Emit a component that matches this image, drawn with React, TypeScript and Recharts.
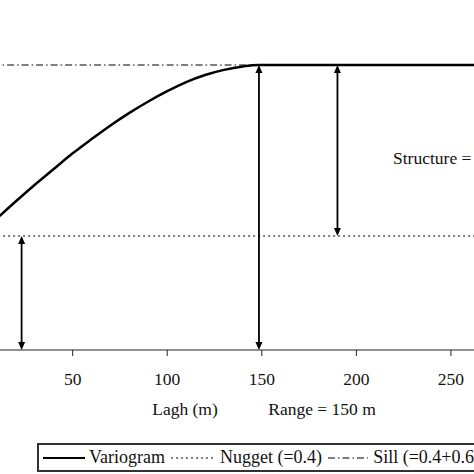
import React from 'react';
import { LineChart, Line, XAxis, YAxis, ReferenceLine, Legend } from 'recharts';

// Lag (m) and semivariance readings of the variogram curve
const LAG = [0, 10, 20, 30, 40, 50, 60, 70, 80, 90, 100, 110, 120, 130, 140, 148.5, 300];
const GAMMA = [0.4, 0.462, 0.522, 0.58, 0.635, 0.69, 0.74, 0.788, 0.832, 0.872, 0.908, 0.94, 0.965, 0.983, 0.995, 1.0, 1.0];

const X_TICKS = [0, 50, 100, 150, 200, 250, 300];
const NUGGET = 0.4;
const SILL = 1.0;
const RANGE_LAG = 148.5;
const NUGGET_ARROW_LAG = 23;
const STRUCTURE_ARROW_LAG = 190;

const AXIS_TEXTS = ['Lagh (m)', 'Range = 150 m'];
const STRUCTURE_TEXT = 'Structure = 0.6';
const LEGEND_NAMES = ['Variogram', 'Nugget (=0.4)', 'Sill (=0.4+0.6=1)'];

const data = LAG.map((lag, i) => ({ lag, variogram: GAMMA[i] }));

const FONT = "'Liberation Serif', 'Times New Roman', serif";
const FS = 17.5;
const LFS = 18;
const OFFSET_X = 60;

const ArrowShape = (props: any) => {
  const { x1, y1, x2, y2 } = props;
  const L = 8;
  const W = 3.5;
  const top = Math.min(y1, y2);
  const bot = Math.max(y1, y2);
  const x = x1;
  return (
    <g>
      <line x1={x} y1={top + 3} x2={x} y2={bot - 3} stroke="#000" strokeWidth={1.8} />
      <polygon points={`${x},${top} ${x - W},${top + L} ${x + W},${top + L}`} fill="#000" />
      <polygon points={`${x},${bot} ${x - W},${bot - L} ${x + W},${bot - L}`} fill="#000" />
    </g>
  );
};

const AxisTexts = () => (
  <g>
    <text x={185 + OFFSET_X} y={415} textAnchor="middle" fontFamily={FONT} fontSize={FS} fill="#111">
      {AXIS_TEXTS[0]}
    </text>
    <text x={322 + OFFSET_X} y={415} textAnchor="middle" fontFamily={FONT} fontSize={FS} fill="#111">
      {AXIS_TEXTS[1]}
    </text>
  </g>
);

const StructureText = () => (
  <text x={393 + OFFSET_X} y={164} fontFamily={FONT} fontSize={FS} fill="#111">
    {STRUCTURE_TEXT}
  </text>
);

const LegendContent = () => (
  <div
    style={{
      border: '2px solid #333',
      height: 25,
      display: 'flex',
      alignItems: 'center',
      fontFamily: FONT,
      fontSize: LFS,
      color: '#111',
      paddingLeft: 4,
      whiteSpace: 'nowrap',
      boxSizing: 'content-box',
    }}
  >
    <svg width={42} height={6} style={{ marginRight: 4 }}>
      <line x1={0} y1={3} x2={42} y2={3} stroke="#000" strokeWidth={2.2} />
    </svg>
    <span style={{ marginRight: 6 }}>{LEGEND_NAMES[0]}</span>
    <svg width={42} height={6} style={{ marginRight: 7 }}>
      <line x1={0} y1={3} x2={42} y2={3} stroke="#000" strokeWidth={1.2} strokeDasharray="2 3" />
    </svg>
    <span style={{ marginRight: 6 }}>{LEGEND_NAMES[1]}</span>
    <svg width={40} height={6} style={{ marginRight: 5 }}>
      <line x1={0} y1={3} x2={40} y2={3} stroke="#000" strokeWidth={1.2} strokeDasharray="7 3 1.5 3" />
    </svg>
    <span>{LEGEND_NAMES[2]}</span>
  </div>
);

export default function App() {
  return (
    <div style={{ position: 'fixed', left: 0, top: 0, width: 474, height: 474, overflow: 'hidden', background: '#fff' }}>
      <div style={{ position: 'absolute', left: -OFFSET_X, top: 0 }}>
        <LineChart
          width={620}
          height={474}
          data={data}
          margin={{ top: 8, right: 14.5, bottom: 64, left: 38.1 }}
        >
          <XAxis
            dataKey="lag"
            type="number"
            domain={[0, 300]}
            ticks={X_TICKS}
            allowDataOverflow
            height={60}
            tickSize={6}
            tickMargin={17}
            stroke="#222"
            tick={{ fontSize: FS, fontFamily: FONT, fill: '#111' }}
            label={{ content: () => <AxisTexts /> }}
          />
          <YAxis hide type="number" domain={[0, 1.2]} allowDataOverflow />
          <ReferenceLine y={NUGGET} stroke="#000" strokeWidth={1.2} strokeDasharray="2 3" />
          <ReferenceLine
            segment={[{ x: 0, y: SILL }, { x: RANGE_LAG, y: SILL }]}
            stroke="#000"
            strokeWidth={1.2}
            strokeDasharray="7 3 1.5 3"
          />
          <ReferenceLine
            segment={[{ x: NUGGET_ARROW_LAG, y: 0 }, { x: NUGGET_ARROW_LAG, y: NUGGET }]}
            shape={ArrowShape}
          />
          <ReferenceLine
            segment={[{ x: RANGE_LAG, y: 0 }, { x: RANGE_LAG, y: SILL }]}
            shape={ArrowShape}
          />
          <ReferenceLine
            segment={[{ x: STRUCTURE_ARROW_LAG, y: NUGGET }, { x: STRUCTURE_ARROW_LAG, y: SILL }]}
            shape={ArrowShape}
            label={{ content: () => <StructureText /> }}
          />
          <Line
            dataKey="variogram"
            type="monotone"
            stroke="#000"
            strokeWidth={2.5}
            dot={false}
            isAnimationActive={false}
          />
          <Legend
            verticalAlign="middle"
            align="center"
            layout="horizontal"
            content={() => <LegendContent />}
            wrapperStyle={{ left: 37 + OFFSET_X, top: 443, width: 700, height: 29 }}
          />
        </LineChart>
      </div>
    </div>
  );
}
